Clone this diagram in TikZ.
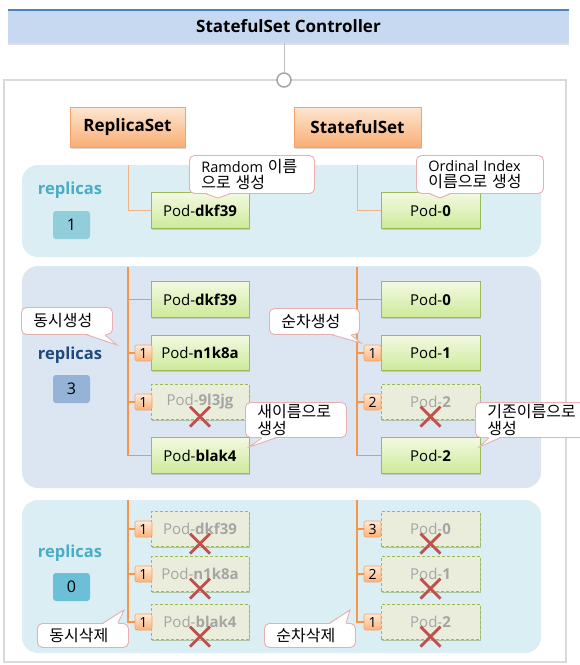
\documentclass[tikz,border=0pt]{standalone}
\usepackage{fontspec}
\setmainfont{Open Sans}
\newfontfamily\kr{Noto Sans CJK KR}
\usetikzlibrary{shadows,calc}
\definecolor{frame}{HTML}{D9D9D9}
\definecolor{barfill}{HTML}{C6D9F1}
\definecolor{barline}{HTML}{4F81BD}
\definecolor{hubline}{HTML}{BFBFBF}
\definecolor{hubbrd}{HTML}{A6A6A6}
\definecolor{kindtop}{HTML}{FDE6D2}
\definecolor{kindbot}{HTML}{F9AE74}
\definecolor{kindbrd}{HTML}{F5A266}
\definecolor{bandA}{HTML}{DAEEF3}
\definecolor{bandB}{HTML}{DCE6F2}
\definecolor{repA}{HTML}{4BACC6}
\definecolor{repB}{HTML}{1F497D}
\definecolor{numA}{HTML}{92CDDC}
\definecolor{numB}{HTML}{95B3D7}
\definecolor{numC}{HTML}{6CBFD6}
\definecolor{trunkc}{HTML}{F79646}
\definecolor{trunkl}{HTML}{F4B183}
\definecolor{podtop}{HTML}{F3F9E1}
\definecolor{podbot}{HTML}{CDEA99}
\definecolor{podbrd}{HTML}{9BBB59}
\definecolor{ghostfill}{HTML}{EAEDDB}
\definecolor{ghosttxt}{HTML}{A5A5A5}
\definecolor{badgetop}{HTML}{FDE9D9}
\definecolor{badgebot}{HTML}{F9B27B}
\definecolor{badgebrd}{HTML}{F7A466}
\definecolor{xred}{HTML}{C0504D}
\definecolor{cobrd}{HTML}{E6B0AE}
\tikzset{
  frameline/.style={draw=frame, line width=2.5pt},
  titlebar/.style={fill=barfill, minimum width=561pt, minimum height=33pt, inner sep=0pt,
    font=\bfseries\fontsize{17}{20}\selectfont,
    drop shadow={shadow xshift=0pt, shadow yshift=-1.5pt, opacity=0.25}},
  hub/.style={circle, draw=hubbrd, fill=white, line width=1.5pt, minimum size=14pt, inner sep=0pt},
  kind/.style={draw=kindbrd, line width=0.8pt, top color=kindtop, bottom color=kindbot,
    minimum height=40pt, inner sep=0pt, font=\bfseries\fontsize{17}{20}\selectfont,
    drop shadow={shadow xshift=1.2pt, shadow yshift=-1.5pt, opacity=0.3}},
  rep/.style={font=\bfseries\fontsize{16.5}{19}\selectfont, inner sep=0pt},
  num/.style={rounded corners=3pt, minimum width=37pt, minimum height=28pt, inner sep=0pt,
    font=\fontsize{16}{18}\selectfont},
  trunk/.style={draw=trunkc, line width=1.3pt},
  trunklight/.style={draw=trunkl, line width=1pt},
  pod/.style={draw=podbrd, line width=0.8pt, top color=podtop, bottom color=podbot,
    minimum width=98pt, minimum height=35.5pt, inner sep=0pt, font=\fontsize{15}{17}\selectfont,
    drop shadow={shadow xshift=1pt, shadow yshift=-1.5pt, opacity=0.3}},
  ghost/.style={draw=podbrd, line width=0.9pt, dash pattern=on 3pt off 2pt, fill=ghostfill,
    text=ghosttxt, minimum width=98pt, minimum height=35.5pt, inner sep=0pt,
    font=\fontsize{15}{17}\selectfont,
    drop shadow={shadow xshift=0.8pt, shadow yshift=-1.5pt, opacity=0.45, fill=podbrd!80!black}},
  badge/.style={draw=badgebrd, line width=0.6pt, top color=badgetop, bottom color=badgebot,
    rounded corners=2pt, minimum width=17pt, minimum height=16pt, inner sep=0pt,
    font=\fontsize{14}{15}\selectfont},
  xmark/.style={draw=xred, line width=2.8pt},
  cobox/.style={draw=cobrd, fill=white, line width=0.9pt, rounded corners=5pt,
    align=left, inner xsep=12pt, inner ysep=0pt, anchor=north west,
    font=\fontsize{14.5}{16.5}\selectfont},
  coline/.style={draw=cobrd, line width=0.9pt},
}
\newcommand\hg{\kr\fontsize{16}{16.5}\selectfont}
\newcommand\podcross[1]{%
  \draw[xmark] ($(#1.south)+(-10,-13.5)$) -- ($(#1.south)+(10,6.5)$);
  \draw[xmark] ($(#1.south)+(10,-13.5)$) -- ($(#1.south)+(-10,6.5)$);}
% #1 base a, #2 base b, #3 tip, #4 inset
\newcommand\coptr[4]{%
  \fill[white] ($#1+(0,#4)$) -- #3 -- ($#2+(0,#4)$) -- cycle;
  \draw[coline] #1 -- #3 -- #2;}
\begin{document}
\begin{tikzpicture}[x=1pt,y=-1pt]
\useasboundingbox (0,0) rectangle (580,665);
% frame
\draw[frameline] (4,80) rectangle (566,662);
% title
\node[titlebar] (ctrl) at (288.5,26.5) {StatefulSet Controller};
\draw[barline, line width=1.5pt] (ctrl.north west) -- (ctrl.north east);
\node[hub] (hub) at (284,80) {};
\draw[hubline, line width=1pt] (hub.north) -- (hub.north |- ctrl.south);
% kinds
\node[kind, minimum width=115pt] (rs) at (127.5,127) {ReplicaSet};
\node[kind, minimum width=127pt] (ss) at (357.5,127) {StatefulSet};
% bands
\fill[bandA, rounded corners=16pt] (22,165) rectangle (541,257);
\fill[bandB, rounded corners=16pt] (22,266) rectangle (541,488);
\fill[bandA, rounded corners=16pt] (22,500) rectangle (541,653);
% replicas
\node[rep, text=repA] (r1) at (70,190) {replicas};
\node[num, fill=numA] (n1) at (71.5,225) {1};
\node[rep, text=repB] (r2) at (70,355) {replicas};
\node[num, fill=numB] (n2) at (71.5,389) {3};
\node[rep, text=repA] (r3) at (70,553) {replicas};
\node[num, fill=numC] (n3) at (71.5,587) {0};
% ---------- section 1
\coordinate (ta1) at (128,165);
\coordinate (tb1) at (357,165);
\node[pod] (a1) at (200,210.5) {Pod-\textbf{dkf39}};
\node[pod, minimum width=99pt] (b1) at (430.5,210.5) {Pod-\textbf{0}};
\draw[trunklight] (ta1) |- (a1.west);
\draw[trunklight] (tb1) |- (b1.west);
% ---------- section 2
\coordinate (ta2) at (128,267);
\coordinate (tb2) at (357,267);
\node[pod] (a21) at (200,299.5) {Pod-\textbf{dkf39}};
\node[pod] (a22) at (200,353) {Pod-\textbf{n1k8a}};
\node[ghost] (a23) at (200,402) {Pod-\textbf{9l3jg}};
\node[pod] (a24) at (200,455.5) {Pod-\textbf{blak4}};
\node[pod, minimum width=99pt] (b21) at (430.5,299.5) {Pod-\textbf{0}};
\node[pod, minimum width=99pt] (b22) at (430.5,353) {Pod-\textbf{1}};
\node[ghost, minimum width=99pt] (b23) at (430.5,402) {Pod-\textbf{2}};
\node[pod, minimum width=99pt] (b24) at (430.5,455.5) {Pod-\textbf{2}};
\node[badge] (ka22) at (143.5,353) {1};
\node[badge] (ka23) at (143.5,402) {1};
\node[badge] (kb22) at (372.5,353) {1};
\node[badge] (kb23) at (372.5,402) {2};
\draw[trunk] (ta2) |- (a24.west);
\draw[trunk] (a21.west) -- (a21.west -| ta2);
\draw[trunk] (ka22.west) -- (ka22.west -| ta2);
\draw[trunk] (ka23.west) -- (ka23.west -| ta2);
\draw[trunk] (tb2) |- (b24.west);
\draw[trunk] (b21.west) -- (b21.west -| tb2);
\draw[trunk] (kb22.west) -- (kb22.west -| tb2);
\draw[trunk] (kb23.west) -- (kb23.west -| tb2);
\podcross{a23}
\podcross{b23}
% ---------- section 3
\coordinate (ta3) at (128,500);
\coordinate (tb3) at (357,500);
\node[ghost] (a31) at (200,529) {Pod-\textbf{dkf39}};
\node[ghost] (a32) at (200,574) {Pod-\textbf{n1k8a}};
\node[ghost] (a33) at (200,622) {Pod-\textbf{blak4}};
\node[ghost, minimum width=99pt] (b31) at (430.5,529) {Pod-\textbf{0}};
\node[ghost, minimum width=99pt] (b32) at (430.5,574) {Pod-\textbf{1}};
\node[ghost, minimum width=99pt] (b33) at (430.5,622) {Pod-\textbf{2}};
\node[badge] (ka31) at (143.5,529) {1};
\node[badge] (ka32) at (143.5,574) {1};
\node[badge] (ka33) at (143.5,622) {1};
\node[badge] (kb31) at (372.5,529) {3};
\node[badge] (kb32) at (372.5,574) {2};
\node[badge] (kb33) at (372.5,622) {1};
\draw[trunk] (ta3) |- (ka33.west);
\draw[trunk] (ka31.west) -- (ka31.west -| ta3);
\draw[trunk] (ka32.west) -- (ka32.west -| ta3);
\draw[trunk] (tb3) |- (kb33.west);
\draw[trunk] (kb31.west) -- (kb31.west -| tb3);
\draw[trunk] (kb32.west) -- (kb32.west -| tb3);
\podcross{a31}\podcross{a32}\podcross{a33}
\podcross{b31}\podcross{b32}\podcross{b33}
% ---------- callouts
\node[cobox, text width=101pt, minimum height=38pt] (c1) at (189,155) {Ramdom {\hg 이름}\\{\hg 으로 생성}};
\coordinate (p1) at (218,198);
\coptr{($(c1.south west)+(17,0)$)}{($(c1.south west)+(41,0)$)}{(p1)}{-1}
\node[cobox, text width=103pt, minimum height=38pt] (c2) at (416,155) {Ordinal Index\\{\hg 이름으로 생성}};
\coordinate (p2) at (440,198);
\coptr{($(c2.south west)+(14,0)$)}{($(c2.south west)+(34,0)$)}{(p2)}{-1}
\node[cobox, text width=67pt, minimum height=27pt] (c3) at (21,307) {\hg 동시생성};
\coordinate (p3) at (117,345);
\coptr{($(c3.south west)+(66,0)$)}{($(c3.south west)+(84,0)$)}{(p3)}{-1}
\node[cobox, text width=66pt, minimum height=26pt] (c4) at (269,308) {\hg 순차생성};
\coordinate (p4) at (361,343);
\coptr{($(c4.south west)+(63,0)$)}{($(c4.south west)+(82,0)$)}{(p4)}{-1}
\node[cobox, text width=77pt, minimum height=35pt] (c5) at (245,402) {\hg 새이름으로\\생성};
\coordinate (p5) at (249,447);
\coptr{($(c5.south west)+(17,0)$)}{($(c5.south west)+(31,0)$)}{(p5)}{-1}
\node[cobox, text width=95pt, minimum height=35pt] (c6) at (475,402) {\hg 기존이름으로\\생성};
\coordinate (p6) at (479,447);
\coptr{($(c6.south west)+(14,0)$)}{($(c6.south west)+(25,0)$)}{(p6)}{-1}
\node[cobox, text width=67pt, minimum height=24pt] (c7) at (37,623) {\hg 동시삭제};
\coordinate (p7) at (124,610);
\coptr{($(c7.north west)+(66,0)$)}{($(c7.north west)+(81,0)$)}{(p7)}{1}
\node[cobox, text width=67pt, minimum height=24pt] (c8) at (264,623) {\hg 순차삭제};
\coordinate (p8) at (350,610);
\coptr{($(c8.north west)+(66,0)$)}{($(c8.north west)+(82,0)$)}{(p8)}{1}
\end{tikzpicture}
\end{document}
